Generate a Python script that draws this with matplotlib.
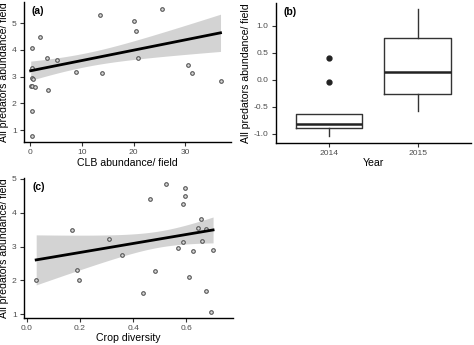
import matplotlib
matplotlib.use('Agg')

import numpy as np
import matplotlib.pyplot as plt

plt.rcParams['font.family'] = ['Liberation Sans', 'DejaVu Sans']

# (a) CLB abundance vs predators
clb_x = [0.3, 1.9, 13.5, 20.0, 20.5, 25.5, 0.3, 3.2, 5.1, 0.3, 0.5, 0.05, 0.4,
         0.8, 3.4, 8.9, 13.9, 20.8, 30.5, 31.2, 36.8, 0.3, 0.3]
clb_y = [4.06, 4.48, 5.29, 5.09, 4.70, 5.54, 3.34, 3.69, 3.61, 2.96, 2.91, 2.67, 2.66,
         2.60, 2.52, 3.19, 3.15, 3.70, 3.44, 3.12, 2.85, 1.70, 0.78]
# fitted line: intercept, slope, band half-width at x-mean, spread
clb_fit = [3.22, 0.0386, 0.256, 0.0245]

# (b) predators by year (box statistics)
years = ['2014', '2015']
q1 = [-0.895, -0.27]
med = [-0.827, 0.14]
q3 = [-0.635, 0.77]
whis_lo = [-1.05, -0.58]
whis_hi = [-0.635, 1.30]
outliers = [[0.40, -0.04], []]

# (c) crop diversity vs predators
div_x = [0.035, 0.168, 0.187, 0.198, 0.309, 0.359, 0.436, 0.464, 0.484, 0.524,
         0.569, 0.586, 0.589, 0.594, 0.596, 0.611, 0.627, 0.646, 0.654, 0.66,
         0.674, 0.676, 0.701, 0.692]
div_y = [2.0, 3.50, 2.30, 2.01, 3.21, 2.75, 1.64, 4.41, 2.27, 4.84,
         2.96, 3.12, 4.24, 4.72, 4.49, 2.10, 2.87, 3.56, 3.82, 3.15,
         3.51, 1.68, 2.91, 1.07]
div_fit = [2.56, 1.324, 0.238, 1.495]

TICK_C = '#4D4D4D'
LAB_FS = 7.6
TICK_FS = 6.1


def style(ax):
    for s in ['top', 'right']:
        ax.spines[s].set_visible(False)
    for s in ['left', 'bottom']:
        ax.spines[s].set_linewidth(1.0)
        ax.spines[s].set_color('black')
    ax.tick_params(labelsize=TICK_FS, colors='#333333', labelcolor=TICK_C,
                   length=3, width=0.8, pad=2)


def fit_band(ax, x, fit):
    x = np.asarray(x)
    a, b, h0, c = fit
    xs = np.linspace(x.min(), x.max(), 100)
    ys = a + b * xs
    h = np.sqrt(h0 ** 2 + (c * (xs - x.mean())) ** 2)
    ax.fill_between(xs, ys - h, ys + h, color='#CCCCCC', lw=0, alpha=0.85, zorder=1)
    ax.plot(xs, ys, color='black', lw=2, zorder=3)


def points(ax, x, y):
    ax.plot(x, y, 'o', ms=2.6, mfc='#D9D9D9', mec='#555555', mew=0.8, zorder=2)


fig = plt.figure(figsize=(4.74, 3.45), dpi=100)

ylab = 'All predators abundance/ field'

# panel a
ax1 = fig.add_axes([0.050, 0.587, 0.437, 0.407])
points(ax1, clb_x, clb_y)
fit_band(ax1, clb_x, clb_fit)
ax1.set_xlim(-1.3, 38.8)
ax1.set_ylim(0.54, 5.79)
ax1.set_xticks([0, 10, 20, 30])
ax1.set_yticks([1, 2, 3, 4, 5])
style(ax1)
ax1.set_xlabel('CLB abundance/ field', fontsize=LAB_FS, labelpad=1)
ax1.set_ylabel(ylab, fontsize=LAB_FS, labelpad=2)
ax1.text(0.04, 0.97, '(a)', transform=ax1.transAxes, fontsize=7.5, fontweight='bold',
         va='top', ha='left')

# panel b
ax2 = fig.add_axes([0.5816, 0.5864, 0.412, 0.405])
stats = []
for i in range(len(years)):
    stats.append(dict(q1=q1[i], med=med[i], q3=q3[i], whislo=whis_lo[i],
                      whishi=whis_hi[i], fliers=outliers[i], label=years[i]))
ax2.bxp(stats, positions=[1, 2], widths=0.75, showcaps=False,
        boxprops=dict(color='#333333', lw=1.0),
        medianprops=dict(color='#222222', lw=1.8),
        whiskerprops=dict(color='#333333', lw=1.0),
        flierprops=dict(marker='o', mfc='#222222', mec='#222222', ms=3.5))
ax2.set_xlim(0.4, 2.6)
ax2.set_ylim(-1.17, 1.42)
ax2.set_yticks([-1.0, -0.5, 0.0, 0.5, 1.0])
ax2.set_yticklabels(['-1.0', '-0.5', '0.0', '0.5', '1.0'])
style(ax2)
ax2.set_xlabel('Year', fontsize=LAB_FS, labelpad=1)
ax2.set_ylabel(ylab, fontsize=LAB_FS, labelpad=2)
ax2.text(0.04, 0.97, '(b)', transform=ax2.transAxes, fontsize=7.5, fontweight='bold',
         va='top', ha='left')

# panel c
ax3 = fig.add_axes([0.050, 0.0783, 0.441, 0.407])
points(ax3, div_x, div_y)
fit_band(ax3, div_x, div_fit)
ax3.set_xlim(-0.012, 0.775)
ax3.set_ylim(0.896, 5.03)
ax3.set_xticks([0.0, 0.2, 0.4, 0.6])
ax3.set_yticks([1, 2, 3, 4, 5])
style(ax3)
ax3.set_xlabel('Crop diversity', fontsize=LAB_FS, labelpad=1)
ax3.set_ylabel(ylab, fontsize=LAB_FS, labelpad=2)
ax3.text(0.04, 0.97, '(c)', transform=ax3.transAxes, fontsize=7.5, fontweight='bold',
         va='top', ha='left')

fig.savefig('out.png', dpi=100)
